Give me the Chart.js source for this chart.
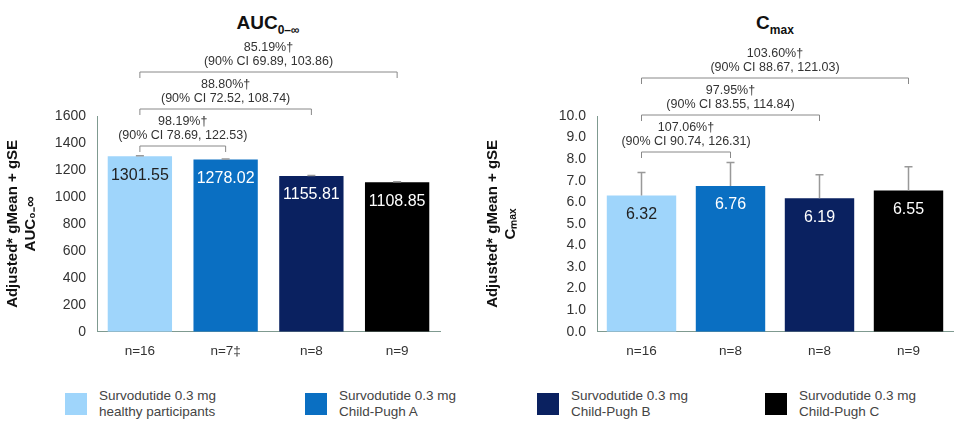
<!DOCTYPE html>
<html><head><meta charset="utf-8">
<script src="https://cdn.jsdelivr.net/npm/chart.js@4"></script>
<style>
body{margin:0;width:960px;height:426px;background:#fff;font-family:"Liberation Sans",Arial,sans-serif;position:relative;overflow:hidden}
canvas{position:absolute;top:0}
.t{position:absolute;top:12px;font-weight:bold;font-size:19px;color:#111;transform:translateX(-50%)}
.t sub{font-size:12px}
.lg{position:absolute;top:388px;display:flex;align-items:flex-start;font-size:13.5px;color:#444;line-height:16px}
.sw{width:22px;height:22px;margin-right:12px;margin-top:5px}
</style></head><body>
<div class="t" style="left:268px">AUC<sub>0–∞</sub></div>
<div class="t" style="left:775px">C<sub>max</sub></div>
<div style="position:absolute;left:0;top:0;width:450px;height:370px"><canvas id="c1"></canvas></div>
<div style="position:absolute;left:480px;top:0;width:480px;height:370px"><canvas id="c2"></canvas></div>
<div class="lg" style="left:65px"><div class="sw" style="background:#9fd5fb"></div><div>Survodutide 0.3 mg<br>healthy participants</div></div>
<div class="lg" style="left:305px"><div class="sw" style="background:#0a6fc2"></div><div>Survodutide 0.3 mg<br>Child-Pugh A</div></div>
<div class="lg" style="left:537px"><div class="sw" style="background:#0a2160"></div><div>Survodutide 0.3 mg<br>Child-Pugh B</div></div>
<div class="lg" style="left:765px"><div class="sw" style="background:#000"></div><div>Survodutide 0.3 mg<br>Child-Pugh C</div></div>
<script>
const colors=['#9fd5fb','#0a6fc2','#0a2160','#000000'];
const labelColors=['#222','#fff','#fff','#fff'];
const aucLabels=['n=16','n=7‡','n=8','n=9'];
const aucValues=[1301.55,1278.02,1155.81,1108.85];
const aucUpper=[1305,1282,1159,1112];
const aucTicks={min:0,max:1600,step:200};
const aucBrackets=[['98.19%†','(90% CI 78.69, 122.53)',1],['88.80%†','(90% CI 72.52, 108.74)',2],['85.19%†','(90% CI 69.89, 103.86)',3]];
const cmaxLabels=['n=16','n=8','n=8','n=9'];
const cmaxValues=[6.32,6.76,6.19,6.55];
const cmaxUpper=[7.38,7.85,7.28,7.65];
const cmaxTicks={min:0,max:10,step:1};
const cmaxBrackets=[['107.06%†','(90% CI 90.74, 126.31)',1],['97.95%†','(90% CI 83.55, 114.84)',2],['103.60%†','(90% CI 88.67, 121.03)',3]];

function make(id,labels,values,upper,ticks,brackets,yw,fmt,titleSub,bOff,catPct,padR){
  const plug={id:'ann'+id,afterDatasetsDraw(ch){
    const c=ch.ctx,x=ch.scales.x,y=ch.scales.y,meta=ch.getDatasetMeta(0);
    c.save();
    // error bars
    c.strokeStyle='#999';c.lineWidth=1.5;
    values.forEach((v,i)=>{const px=meta.data[i].x,t=y.getPixelForValue(v),u=y.getPixelForValue(upper[i]);
      c.beginPath();c.moveTo(px,t);c.lineTo(px,u);c.moveTo(px-4,u);c.lineTo(px+4,u);c.stroke();});
    c.font='16px "Liberation Sans", Arial';c.textAlign='center';c.textBaseline='middle';
    values.forEach((v,i)=>{c.fillStyle=labelColors[i];c.fillText(fmt(v),meta.data[i].x,y.getPixelForValue(v)+19);});
    // brackets
    c.strokeStyle='#888';c.lineWidth=1;c.font='12.5px "Liberation Sans", Arial';c.fillStyle='#333';
    brackets.forEach((b,k)=>{const x0=meta.data[0].x,x1=meta.data[b[2]].x,by=ch.chartArea.top+bOff-37*k;
      c.beginPath();c.moveTo(x0,by+6);c.lineTo(x0,by);c.lineTo(x1,by);c.lineTo(x1,by+6);c.stroke();
      const cx=(x0+x1)/2;c.fillText(b[0],cx,by-24);c.fillText(b[1],cx,by-10);});
    c.restore();}};
  return new Chart(document.getElementById(id),{type:'bar',
    data:{labels,datasets:[{data:values,backgroundColor:colors,categoryPercentage:catPct,barPercentage:1}]},
    options:{responsive:true,maintainAspectRatio:false,animation:false,
      layout:{padding:{top:116,right:padR,bottom:8}},
      plugins:{legend:{display:false},tooltip:{enabled:false}},
      scales:{x:{grid:{display:false},border:{color:'#7f9a90'},ticks:{color:'#333',font:{size:13.5,family:'Liberation Sans'}}},
        y:{min:ticks.min,max:ticks.max,grid:{display:false,drawTicks:true},border:{color:'#7f9a90'},
          ticks:{stepSize:ticks.step,color:'#333',font:{size:14,family:'Liberation Sans'},callback:v=>ticks.step<1.5&&ticks.max<=10?v.toFixed(1):v},
          title:{display:true,text:['Adjusted* gMean + gSE',titleSub],color:'#111',font:{size:15,weight:'bold',family:'Liberation Sans'},padding:{bottom:6}},
          afterFit(s){s.width=yw;}}}},
    plugins:[plug]});
}
make('c1',aucLabels,aucValues,aucUpper,aucTicks,aucBrackets,97,v=>v.toFixed(2),'AUC₀₋∞',30,0.75,10);
make('c2',cmaxLabels,cmaxValues,cmaxUpper,cmaxTicks,cmaxBrackets,117,v=>v.toFixed(2),'Cₘₐₓ',36,0.78,7);
</script></body></html>
